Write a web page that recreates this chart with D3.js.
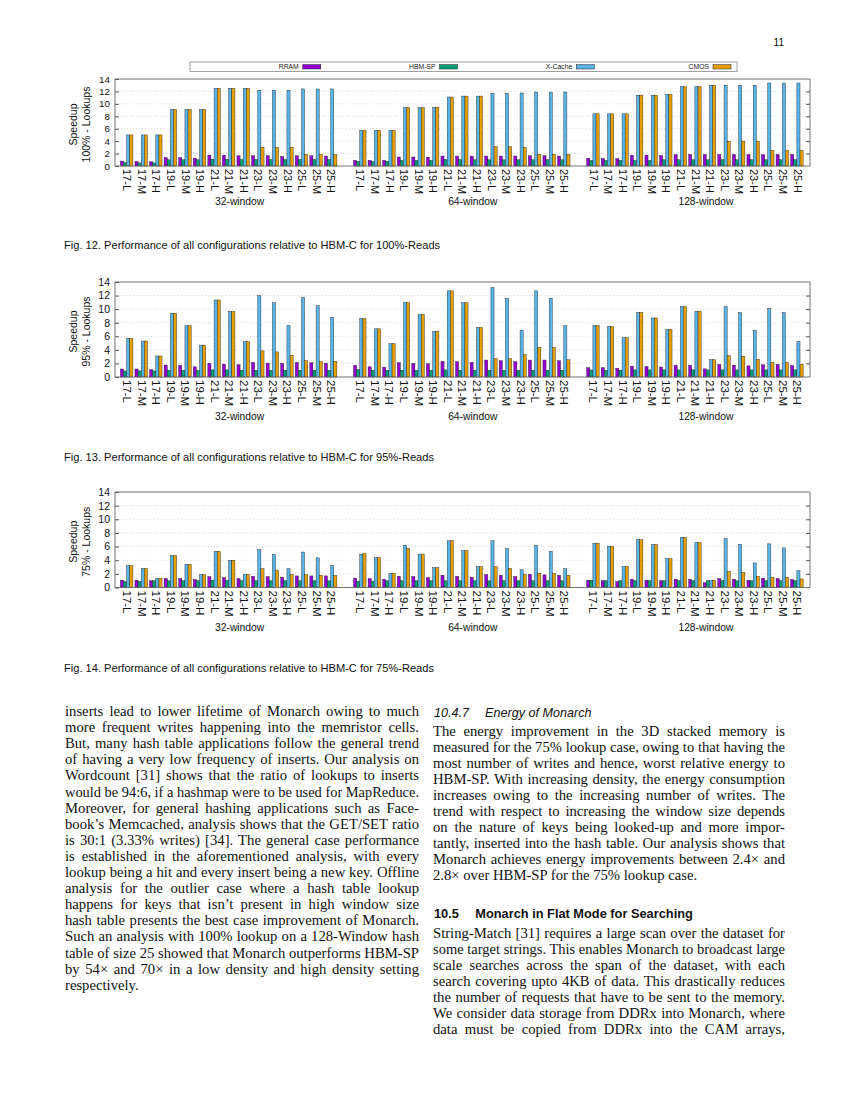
<!DOCTYPE html>
<html>
<head>
<meta charset="utf-8">
<script src="https://cdn.jsdelivr.net/npm/d3@7"></script>
<style>
body { margin: 0; background: #fff; }
</style>
</head>
<body>
<script>

/* Chart values */

var categories = ["17-L", "17-M", "17-H", "19-L", "19-M", "19-H", "21-L", "21-M", "21-H",
                  "23-L", "23-M", "23-H", "25-L", "25-M", "25-H"];
var windows = ["32-window", "64-window", "128-window"];
var seriesNames = ["RRAM", "HBM-SP", "X-Cache", "CMOS"];
var seriesColors = ["#9400d3", "#009e73", "#56b4e9", "#e69f00"];
var yTicks = [0, 2, 4, 6, 8, 10, 12, 14];

/* 100% lookups */
var rram100 = [0.8, 0.75, 0.7, 1.35, 1.35, 1.25, 1.75, 1.75, 1.65, 1.65, 1.65, 1.55, 1.65, 1.65, 1.6,
               0.9, 0.9, 0.9, 1.45, 1.45, 1.4, 1.6, 1.6, 1.6, 1.6, 1.6, 1.6, 1.65, 1.65, 1.6,
               1.25, 1.2, 1.2, 1.75, 1.75, 1.7, 1.85, 1.85, 1.85, 1.85, 1.85, 1.85, 1.85, 1.85, 1.85];
var hbm100 = [0.55, 0.5, 0.5, 1.0, 1.0, 1.0, 1.1, 1.1, 1.05, 1.05, 1.05, 1.05, 1.05, 1.05, 1.05,
              0.75, 0.7, 0.75, 0.9, 0.9, 0.9, 1.05, 1.05, 1.0, 1.0, 1.0, 1.0, 1.0, 1.0, 1.0,
              0.9, 0.9, 0.9, 0.9, 0.9, 1.0, 1.0, 1.0, 1.0, 1.0, 1.0, 1.0, 1.0, 1.0, 1.0];
var xcache100 = [5.0, 5.0, 5.0, 9.1, 9.1, 9.1, 12.5, 12.5, 12.5, 12.2, 12.2, 12.2, 12.4, 12.4, 12.4,
                 5.73, 5.73, 5.73, 9.4, 9.4, 9.4, 11.1, 11.25, 11.25, 11.7, 11.7, 11.75, 11.9, 11.9, 11.9,
                 8.4, 8.4, 8.4, 11.4, 11.4, 11.5, 12.75, 12.75, 13.0, 13.0, 13.0, 13.0, 13.35, 13.35, 13.35];
var cmos100 = [5.0, 5.0, 5.0, 9.1, 9.1, 9.1, 12.5, 12.5, 12.5, 3.0, 3.0, 3.0, 1.85, 1.85, 1.85,
               5.73, 5.73, 5.73, 9.4, 9.4, 9.45, 11.1, 11.25, 11.25, 3.1, 3.1, 3.0, 1.9, 1.9, 1.9,
               8.4, 8.4, 8.4, 11.4, 11.4, 11.5, 12.75, 12.75, 13.0, 4.0, 4.0, 4.0, 2.5, 2.5, 2.5];

/* 95% lookups */
var rram95 = [1.18, 1.18, 1.08, 1.77, 1.7, 1.5, 2.0, 1.9, 1.8, 2.15, 2.05, 2.0, 2.15, 2.1, 2.05,
              1.7, 1.5, 1.45, 2.1, 2.0, 1.95, 2.3, 2.25, 2.15, 2.5, 2.4, 2.25, 2.5, 2.5, 2.4,
              1.38, 1.38, 1.28, 1.6, 1.55, 1.47, 1.75, 1.7, 1.2, 1.85, 1.75, 1.65, 1.8, 1.85, 1.7];
var hbm95 = [0.9, 0.9, 0.9, 1.0, 1.0, 0.95, 1.05, 1.05, 1.0, 1.0, 1.0, 1.0, 1.0, 1.0, 1.0,
             1.1, 1.0, 1.0, 1.0, 1.0, 1.0, 1.05, 1.0, 1.0, 1.0, 1.0, 1.0, 1.0, 1.0, 1.0,
             1.03, 1.0, 1.0, 1.05, 1.05, 1.05, 1.05, 1.05, 1.05, 1.05, 1.05, 1.05, 1.05, 1.05, 1.05];
var xcache95 = [5.7, 5.3, 3.1, 9.4, 7.55, 4.7, 11.35, 9.65, 5.2, 12.0, 10.95, 7.6, 11.7, 10.5, 8.8,
                8.6, 7.1, 4.9, 10.95, 9.2, 6.7, 12.7, 10.95, 7.3, 13.2, 11.6, 6.9, 12.7, 11.6, 7.55,
                7.6, 7.45, 5.8, 9.5, 8.7, 7.0, 10.35, 9.7, 2.55, 10.35, 9.5, 6.9, 10.1, 9.5, 5.25];
var cmos95 = [5.7, 5.3, 3.1, 9.4, 7.55, 4.7, 11.35, 9.65, 5.2, 3.85, 3.7, 3.2, 2.4, 2.3, 2.3,
              8.6, 7.1, 4.9, 10.95, 9.2, 6.7, 12.7, 10.95, 7.3, 2.7, 2.7, 3.3, 4.35, 4.35, 2.55,
              7.6, 7.45, 5.8, 9.5, 8.7, 7.0, 10.35, 9.7, 2.55, 3.15, 3.05, 2.6, 2.15, 2.15, 1.9];

/* 75% lookups */
var rram75 = [1.07, 1.07, 1.0, 1.35, 1.3, 1.15, 1.6, 1.45, 1.3, 1.65, 1.6, 1.5, 1.7, 1.7, 1.7,
              1.37, 1.3, 1.22, 1.65, 1.6, 1.45, 1.8, 1.65, 1.5, 1.9, 1.8, 1.6, 1.95, 1.85, 1.8,
              1.07, 1.02, 0.88, 1.22, 1.07, 1.0, 1.2, 1.17, 0.7, 1.3, 1.22, 1.07, 1.37, 1.32, 1.17];
var hbm75 = [0.88, 0.9, 1.0, 1.0, 1.0, 1.0, 1.05, 1.05, 1.0, 1.0, 1.0, 1.0, 1.0, 1.0, 1.0,
             0.93, 0.93, 0.98, 1.0, 1.0, 1.0, 1.0, 1.0, 1.0, 1.0, 1.0, 1.0, 1.0, 1.0, 1.0,
             1.07, 1.0, 1.0, 1.0, 1.0, 1.0, 1.0, 1.0, 1.0, 1.0, 1.0, 1.0, 1.0, 1.0, 1.0];
var xcache75 = [3.2, 2.8, 1.35, 4.7, 3.4, 1.9, 5.3, 4.0, 1.9, 5.55, 4.85, 2.75, 5.2, 4.35, 3.25,
                4.9, 4.4, 2.1, 6.2, 4.9, 2.9, 6.85, 5.4, 3.05, 6.85, 5.7, 2.6, 6.2, 5.3, 2.75,
                6.5, 6.05, 3.05, 7.0, 6.3, 4.25, 7.35, 6.6, 1.07, 7.15, 6.35, 3.6, 6.4, 5.8, 2.45];
var cmos75 = [3.2, 2.8, 1.35, 4.7, 3.4, 1.9, 5.3, 4.0, 1.9, 2.75, 2.55, 1.9, 1.9, 1.8, 1.75,
              5.0, 4.4, 2.1, 5.75, 4.9, 2.9, 6.85, 5.4, 3.05, 3.05, 2.8, 1.9, 2.1, 2.1, 1.8,
              6.5, 6.05, 3.05, 7.0, 6.3, 4.25, 7.35, 6.6, 1.07, 2.35, 2.2, 1.65, 1.5, 1.5, 1.25];

var sans = "'Liberation Sans', Arial, Helvetica, sans-serif";
var serif = "'Liberation Serif', 'Times New Roman', serif";

var svg = d3.select("body").append("svg")
    .attr("width", 850)
    .attr("height", 1100);

/* page number */
svg.append("text")
    .attr("x", 784).attr("y", 46)
    .attr("text-anchor", "end")
    .style("font-family", sans).style("font-size", "10px")
    .text("11");

/*One chart = one percentage of lookups, with three window groups*/

function drawChart(c) {
  var left = 115, right = 810;
  var x = d3.scaleLinear().domain([-0.8, 46.9]).range([left, right]);
  var y = d3.scaleLinear().domain([0, 14]).range([c.bottom, c.top]);
  var slot = x(1) - x(0),
      bw = slot * 0.215;
  var g = svg.append("g");

  // dotted grid
  g.selectAll("line.grid")
      .data(yTicks.slice(1, -1))
    .enter().append("line")
      .attr("x1", left).attr("x2", right)
      .attr("y1", function(d) { return y(d); })
      .attr("y2", function(d) { return y(d); })
      .attr("stroke", "#c8c8c8")
      .attr("stroke-width", 0.7)
      .attr("stroke-dasharray", "1,2");

  // flatten series into bars
  var rows = [];
  windows.forEach(function(w, wi) {
    categories.forEach(function(cat, ci) {
      c.series.forEach(function(s, si) {
        rows.push({pos: wi * 16 + ci, si: si, v: s[wi * 15 + ci]});
      });
    });
  });

  g.selectAll("rect.bar")
      .data(rows)
    .enter().append("rect")
      .attr("x", function(d) { return x(d.pos) - 2 * bw + d.si * bw; })
      .attr("y", function(d) { return y(d.v); })
      .attr("width", bw)
      .attr("height", function(d) { return y(0) - y(d.v); })
      .attr("fill", function(d) { return seriesColors[d.si]; })
      .attr("stroke", "#222")
      .attr("stroke-width", 0.4);

  // left axis
  var ya = g.append("g")
      .attr("transform", "translate(" + left + ",0)")
      .call(d3.axisLeft(y).tickValues(yTicks).tickSize(-4).tickPadding(5));
  ya.select(".domain").remove();
  ya.selectAll("line").attr("stroke", "#555");
  ya.selectAll("text").style("font-family", sans).style("font-size", c.yFont + "px").attr("fill", "#111");

  // mirror ticks on the right
  var yr = g.append("g")
      .attr("transform", "translate(" + right + ",0)")
      .call(d3.axisRight(y).tickValues(yTicks.slice(1, -1)).tickSize(-4).tickFormat(""));
  yr.select(".domain").remove();
  yr.selectAll("line").attr("stroke", "#555");

  // frame
  g.append("rect")
      .attr("x", left).attr("y", c.top)
      .attr("width", right - left).attr("height", c.bottom - c.top)
      .attr("fill", "none")
      .attr("stroke", "#666")
      .attr("stroke-width", 0.9);

  // category labels, rotated
  var slots = [];
  windows.forEach(function(w, wi) {
    categories.forEach(function(cat, ci) { slots.push(wi * 16 + ci); });
  });
  var xa = g.append("g")
      .attr("transform", "translate(0," + c.bottom + ")")
      .call(d3.axisBottom(x).tickValues(slots).tickSize(0)
        .tickFormat(function(d) { return categories[d % 16]; }));
  xa.select(".domain").remove();
  xa.selectAll("text")
      .attr("x", 3).attr("y", 0).attr("dy", "0.35em")
      .attr("transform", "rotate(90)")
      .style("text-anchor", "start")
      .style("font-family", sans)
      .style("font-size", c.xFont + "px")
      .attr("fill", "#111");

  // window group labels
  g.selectAll("text.grp")
      .data(windows)
    .enter().append("text")
      .attr("x", function(d, i) { return x(i * 16 + 7) + 11; })
      .attr("y", c.groupY + 3.5)
      .attr("text-anchor", "middle")
      .style("font-family", sans)
      .style("font-size", "10.3px")
      .attr("fill", "#111")
      .text(function(d) { return d; });

  // y title, two lines
  var mid = (c.top + c.bottom) / 2 + 2;
  [["Speedup", 73.5], [c.label, 86.5]].forEach(function(t) {
    g.append("text")
        .attr("transform", "translate(" + t[1] + "," + mid + ") rotate(-90)")
        .attr("dy", "0.35em")
        .attr("text-anchor", "middle")
        .style("font-family", sans)
        .style("font-size", "10.5px")
        .attr("fill", "#111")
        .text(t[0]);
  });

  if (c.legend) {
    var lg = svg.append("g");
    var lx = 190, lw = 547, ly = 62, lh = 9.5;
    lg.append("rect")
        .attr("x", lx).attr("y", ly).attr("width", lw).attr("height", lh)
        .attr("fill", "#fff").attr("stroke", "#888").attr("stroke-width", 0.8);
    var step = lw / seriesNames.length;
    seriesNames.forEach(function(n, i) {
      var sx = lx + step * (i + 1) - 24;
      lg.append("rect")
          .attr("x", sx).attr("y", ly + 2.6)
          .attr("width", 18).attr("height", 4.4)
          .attr("fill", seriesColors[i])
          .attr("stroke", "#222").attr("stroke-width", 0.5);
      lg.append("text")
          .attr("x", sx - 4).attr("y", ly + 7.3)
          .attr("text-anchor", "end")
          .style("font-family", sans).style("font-size", "6.8px")
          .attr("fill", "#222")
          .text(n);
    });
  }
}

drawChart({top: 79, bottom: 166, series: [rram100, hbm100, xcache100, cmos100],
           label: "100% - Lookups", legend: true, xFont: 11, yFont: 9.8, groupY: 201});
drawChart({top: 282, bottom: 377, series: [rram95, hbm95, xcache95, cmos95],
           label: "95% - Lookups", legend: false, xFont: 11.5, yFont: 10.5, groupY: 416});
drawChart({top: 492, bottom: 587.5, series: [rram75, hbm75, xcache75, cmos75],
           label: "75% - Lookups", legend: false, xFont: 11.5, yFont: 10.5, groupY: 627});

/* captions */
var captions = [
  ["Fig. 12. Performance of all configurations relative to HBM-C for 100%-Reads", 245],
  ["Fig. 13. Performance of all configurations relative to HBM-C for 95%-Reads", 457],
  ["Fig. 14. Performance of all configurations relative to HBM-C for 75%-Reads", 668]
];
captions.forEach(function(c) {
  svg.append("text")
      .attr("x", 64).attr("y", c[1] + 4)
      .style("font-family", sans).style("font-size", "11.1px")
      .attr("fill", "#111")
      .text(c[0]);
});

/* body text, justified line by line */

var leftLines = [
  "inserts lead to lower lifetime of Monarch owing to much",
  "more frequent writes happening into the memristor cells.",
  "But, many hash table applications follow the general trend",
  "of having a very low frequency of inserts. Our analysis on",
  "Wordcount [31] shows that the ratio of lookups to inserts",
  "would be 94:6, if a hashmap were to be used for MapReduce.",
  "Moreover, for general hashing applications such as Face-",
  "book\u2019s Memcached, analysis shows that the GET/SET ratio",
  "is 30:1 (3.33% writes) [34]. The general case performance",
  "is established in the aforementioned analysis, with every",
  "lookup being a hit and every insert being a new key. Offline",
  "analysis for the outlier case where a hash table lookup",
  "happens for keys that isn\u2019t present in high window size",
  "hash table presents the best case improvement of Monarch.",
  "Such an analysis with 100% lookup on a 128-Window hash",
  "table of size 25 showed that Monarch outperforms HBM-SP",
  "by 54\u00d7 and 70\u00d7 in a low density and high density setting",
  "respectively."
];
var energyLines = [
  "The energy improvement in the 3D stacked memory is",
  "measured for the 75% lookup case, owing to that having the",
  "most number of writes and hence, worst relative energy to",
  "HBM-SP. With increasing density, the energy consumption",
  "increases owing to the increasing number of writes. The",
  "trend with respect to increasing the window size depends",
  "on the nature of keys being looked-up and more impor-",
  "tantly, inserted into the hash table. Our analysis shows that",
  "Monarch achieves energy improvements between 2.4\u00d7 and",
  "2.8\u00d7 over HBM-SP for the 75% lookup case."
];
var flatLines = [
  "String-Match [31] requires a large scan over the dataset for",
  "some target strings. This enables Monarch to broadcast large",
  "scale searches across the span of the dataset, with each",
  "search covering upto 4KB of data. This drastically reduces",
  "the number of requests that have to be sent to the memory.",
  "We consider data storage from DDRx into Monarch, where",
  "data must be copied from DDRx into the CAM arrays,"
];

// the original face is wider than Times, so glyphs get a slight horizontal stretch
var stretch = 1.08;

function paragraph(lines, x0, y0, width, lastFull) {
  var inner = width / stretch;
  lines.forEach(function(line, i) {
    var t = svg.append("text")
        .attr("transform", "translate(" + x0 + "," + (y0 + i * 16.1 + 4.5) + ") scale(" + stretch + ",1)")
        .style("font-family", serif)
        .style("font-size", "13.6px")
        .attr("fill", "#111")
        .text(line);
    if (i === lines.length - 1 && !lastFull) return;
    var w = t.node().getComputedTextLength();
    var gaps = (line.match(/ /g) || []).length;
    if (w < inner && gaps > 0) {
      t.attr("word-spacing", ((inner - w) / gaps) + "px");
    } else if (w > inner) {
      t.attr("textLength", inner).attr("lengthAdjust", "spacingAndGlyphs");
    }
  });
}

paragraph(leftLines, 65, 711.5, 354, false);

svg.append("text")
    .attr("x", 434).attr("y", 716.5)
    .style("font-family", sans).style("font-size", "12.6px").style("font-style", "italic")
    .attr("fill", "#111")
    .text("10.4.7\u2003 Energy of Monarch");
paragraph(energyLines, 433, 731, 352, false);

svg.append("text")
    .attr("x", 434).attr("y", 917.5)
    .style("font-family", sans).style("font-size", "12.8px").style("font-weight", "bold")
    .attr("fill", "#111")
    .text("10.5\u2003 Monarch in Flat Mode for Searching");
paragraph(flatLines, 433, 933, 352, true);

</script>
</body>
</html>
